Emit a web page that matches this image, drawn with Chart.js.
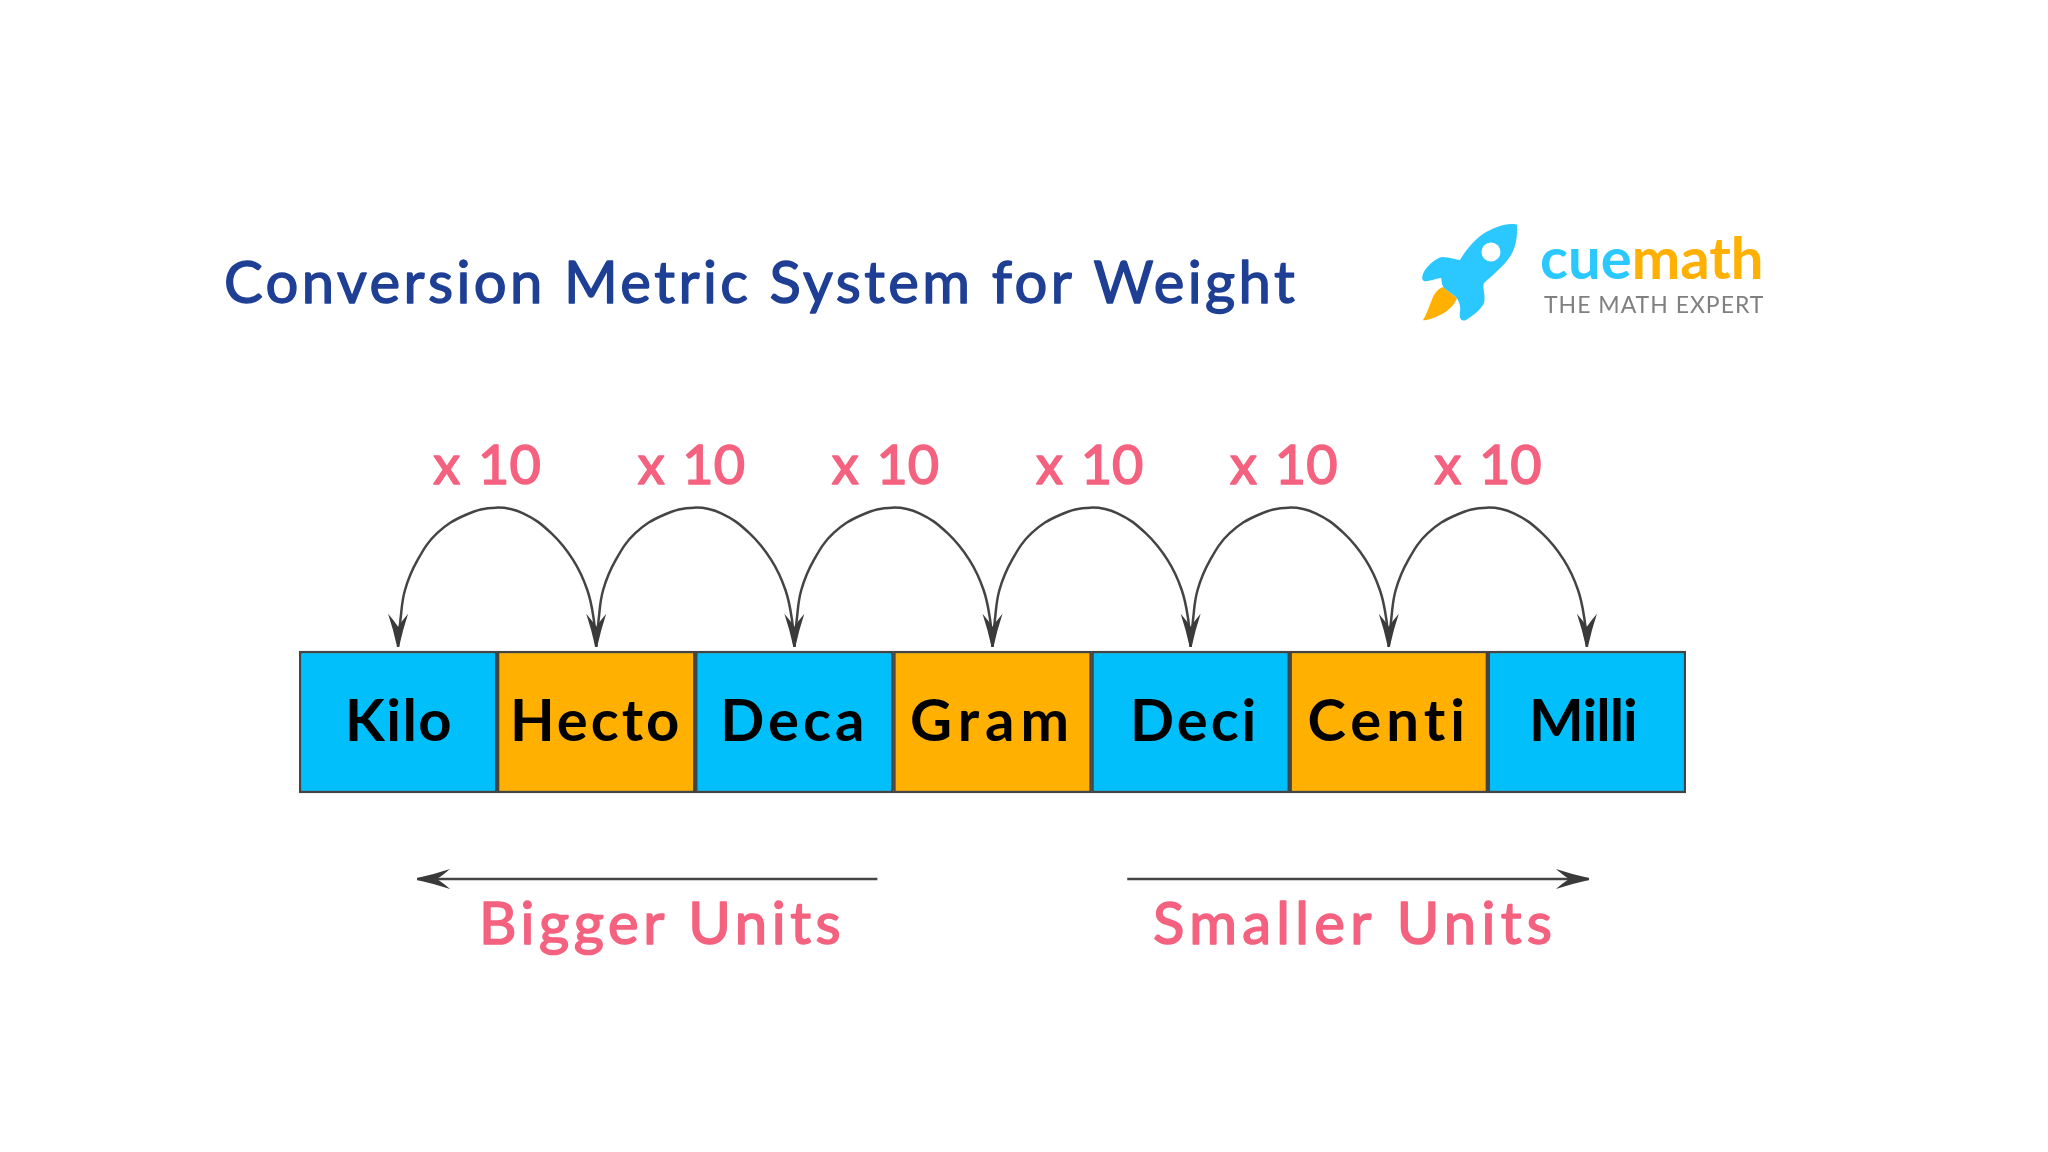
<!DOCTYPE html>
<html>
<head>
<meta charset="utf-8">
<title>Conversion Metric System for Weight</title>
<script src="https://cdn.jsdelivr.net/npm/chart.js@4"></script>
<style>
  html, body { margin: 0; padding: 0; background: #fff; }
  canvas { display: block; }
</style>
</head>
<body>
<canvas id="chart" width="2048" height="1152" style="width:2048px;height:1152px"></canvas>
<script>
// data
const units = ['Kilo', 'Hecto', 'Deca', 'Gram', 'Deci', 'Centi', 'Milli'];
const unitSpan = [[0, 1], [0, 1], [0, 1], [0, 1], [0, 1], [0, 1], [0, 1]];
const unitColors = ['#00BFFB', '#FFB000', '#00BFFB', '#FFB000', '#00BFFB', '#FFB000', '#00BFFB'];

// one hop arc, from the middle of a cell to the middle of the next
const arcX = [0, 0.012, 0.035, 0.098, 0.197, 0.343, 0.495, 0.631, 0.773, 0.884, 0.955, 0.988, 1];
const arcY = [1.03, 1.22, 1.43, 1.64, 1.83, 1.96, 2.01, 1.97, 1.83, 1.64, 1.43, 1.22, 1.03];
const hopStarts = [0, 1, 2, 3, 4, 5];
const hopLabel = 'x 10';
const hopLabelX = [0.449, 1.48, 2.46, 3.49, 4.47, 5.5];

// direction arrows under the cells
const biggerX = [2.419, 0.096];
const smallerX = [3.68, 6.01];
const directionY = -0.606;

// the original font is wider or narrower per word than Lato
const labelSpacing = [1.5, 3, 4, 6, 3, 5, -1];
const labelNudge = [1, 0, 0, 0, 4, 0, -4];

const INK = '#444444';
const PINK = '#F4627F';
const BLUE = '#1E3F94';

function drawText(ctx, text, x, y, font, color, spacing, align, stroke) {
  ctx.font = font;
  ctx.fillStyle = color;
  ctx.letterSpacing = spacing + 'px';
  ctx.textAlign = align || 'left';
  ctx.textBaseline = 'alphabetic';
  ctx.fillText(text, x, y);
  if (stroke) {
    // thickens and rounds the letters a little
    ctx.strokeStyle = color;
    ctx.lineWidth = stroke;
    ctx.lineJoin = 'round';
    ctx.strokeText(text, x, y);
  }
}

function arrowHead(ctx, x, y, angle) {
  ctx.save();
  ctx.translate(x, y);
  ctx.rotate(angle);
  ctx.fillStyle = '#3A3A3A';
  ctx.beginPath();
  ctx.moveTo(-1, 0);
  ctx.quadraticCurveTo(-5, 18, -10, 33);
  ctx.quadraticCurveTo(-4, 26, 0, 20);
  ctx.quadraticCurveTo(4, 26, 10, 33);
  ctx.quadraticCurveTo(5, 18, 1, 0);
  ctx.fill();
  ctx.restore();
}

function drawLogo(ctx) {
  const rocket = new Path2D('M1517 225 C1518 243 1513 254 1506 262 C1497 272 1487 280 1484 283 C1482 288 1486 295 1484 303 C1481 310 1472 316 1466 320 C1461 322 1459 318 1460 312 C1461 306 1459 301 1456 297 L1444 288 C1441 284 1442 280 1441 278 C1434 279 1428 282 1424 281 C1421 279 1422 275 1425 270 C1430 263 1437 258 1442 257 C1450 257 1456 260 1460 260 C1466 250 1474 240 1483 234 C1492 228 1504 224 1511 224 C1515 224 1517 224 1517 225 Z');
  const flame = new Path2D('M1443 287 L1457 298 C1454 306 1447 312 1438 316 C1430 320 1422 321 1423 320 C1428 312 1430 303 1434 295 C1437 290 1440 288 1443 287 Z');
  ctx.fillStyle = '#FFB000';
  ctx.fill(flame);
  ctx.fillStyle = '#2BC8FF';
  ctx.fill(rocket);
  ctx.fillStyle = '#FFFFFF';
  ctx.beginPath();
  ctx.arc(1491, 252, 9.5, 0, Math.PI * 2);
  ctx.fill();

  drawText(ctx, 'cue', 1540, 279, '700 58px Lato', '#2BC8FF', 0);
  const cueWidth = ctx.measureText('cue').width;
  drawText(ctx, 'math', 1540 + cueWidth, 279, '700 58px Lato', '#FFB000', 0);
  drawText(ctx, 'THE MATH EXPERT', 1544, 313, '400 23px Lato', '#808080', 1);
}

// text, arrow heads and logo go on top of the datasets
const sheetPlugin = {
  id: 'sheet',
  afterDatasetsDraw(chart) {
    const { ctx, scales } = chart;
    const xCell = scales.x;
    const xUnit = scales.xUnit;
    const y = scales.y;
    ctx.save();

    drawText(ctx, 'Conversion Metric System for Weight', 224, 303, '400 58px Lato', BLUE, 3.4, 'left', 1.4);
    drawLogo(ctx);

    units.forEach((name, i) => {
      const cx = xCell.getPixelForValue(i);
      arrowHead(ctx, cx, y.getPixelForValue(arcY[0]), Math.PI);
      drawText(ctx, name, cx + labelNudge[i], y.getPixelForValue(0.5) + 19, '700 58px Lato', '#000000', labelSpacing[i], 'center');
    });

    ctx.wordSpacing = '4px';
    hopLabelX.forEach(v => {
      drawText(ctx, hopLabel, xUnit.getPixelForValue(v), 484, '400 54px Lato', PINK, 0, 'center', 1.6);
    });
    ctx.wordSpacing = '0px';

    const dirY = y.getPixelForValue(directionY);
    arrowHead(ctx, xUnit.getPixelForValue(biggerX[1]), dirY, -Math.PI / 2);
    arrowHead(ctx, xUnit.getPixelForValue(smallerX[1]), dirY, Math.PI / 2);
    drawText(ctx, 'Bigger Units', 479, 944, '400 58px Lato', PINK, 4.6, 'left', 1.6);
    drawText(ctx, 'Smaller Units', 1153, 944, '400 58px Lato', PINK, 5.3, 'left', 1.6);

    ctx.restore();
  }
};

const lineStyle = {
  type: 'line',
  xAxisID: 'xUnit',
  borderColor: INK,
  borderWidth: 2.5,
  pointRadius: 0,
  fill: false,
  order: 0
};

const hopDatasets = hopStarts.map(start => ({
  ...lineStyle,
  tension: 0.4,
  data: arcX.map((x, i) => ({ x: start + x, y: arcY[i] }))
}));

const directionDatasets = [biggerX, smallerX].map(xs => ({
  ...lineStyle,
  data: xs.map(x => ({ x, y: directionY }))
}));

new Chart(document.getElementById('chart').getContext('2d'), {
  type: 'bar',
  data: {
    labels: units,
    datasets: [
      {
        type: 'bar',
        data: unitSpan,
        backgroundColor: unitColors,
        borderColor: INK,
        borderWidth: 2.5,
        borderSkipped: false,
        categoryPercentage: 1,
        barPercentage: 1,
        grouped: false,
        order: 1
      },
      ...hopDatasets,
      ...directionDatasets
    ]
  },
  options: {
    responsive: false,
    animation: false,
    devicePixelRatio: 1,
    layout: { padding: { left: 299, right: 362, top: 0, bottom: 0 } },
    scales: {
      x: { display: false },
      xUnit: { type: 'linear', display: false, offset: false, min: -0.5, max: 6.5 },
      y: { display: false, min: -2.528, max: 5.585 }
    },
    plugins: {
      legend: { display: false },
      title: { display: false },
      tooltip: { enabled: false }
    }
  },
  plugins: [sheetPlugin]
});
</script>
</body>
</html>
